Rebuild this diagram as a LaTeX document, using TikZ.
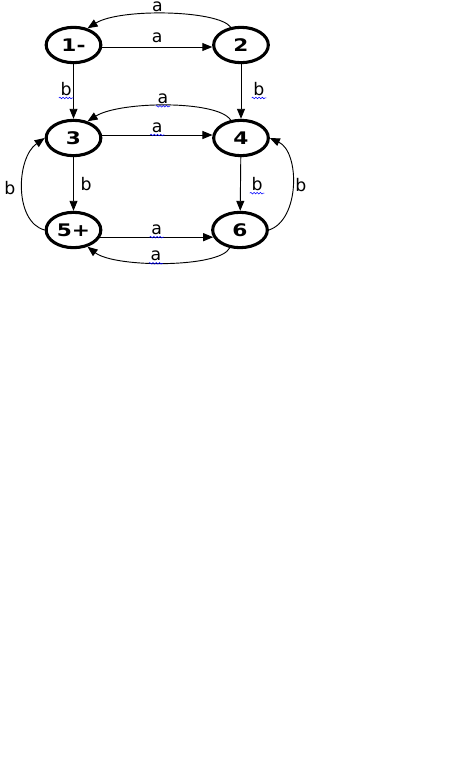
\documentclass[tikz,border=0pt]{standalone}
\usepackage{fontspec}
\setmainfont{DejaVu Sans}
\newfontfamily\statefont{DejaVu Sans}[FakeStretch=1.25]
\usetikzlibrary{arrows.meta,shapes.geometric,decorations.pathmorphing}

\begin{document}
\begin{tikzpicture}[
  x=0.75pt, y=0.75pt,
  state/.style={
    ellipse,
    line width=2.3pt,
    draw=black,
    minimum width=41pt,
    minimum height=26.5pt,
    inner sep=0pt,
    font=\statefont\bfseries\fontsize{13}{15}\selectfont
  },
  trans/.style={-{Triangle[length=7.5pt,width=6pt]}, line width=0.7pt},
  lab/.style={font=\fontsize{13}{15}\selectfont, inner sep=1pt},
  typo/.style={draw=blue, line width=0.4pt, decorate,
    decoration={snake, amplitude=0.6pt, segment length=2.4pt}}]
  \useasboundingbox (0,0) rectangle (450,-760);
  % first row
  \node[state] (s1) at (73.5,-45) {1-};
  \node[state] (s2) at (241,-45) {2};
  % second row
  \node[state] (s3) at (73.5,-138) {3};
  \node[state] (s4) at (241,-138) {4};
  % third row
  \node[state] (s5) at (73.5,-230) {5+};
  \node[state] (s6) at (240,-230) {6};

  % transitions on a
  \draw[trans] (s1.-4) -- node[lab,above=1.5pt] (a12) {a} (s2.184);
  \draw[trans] (s2.120) .. controls (218,-10) and (120,-8) .. node[lab,above,pos=0.55] (a21) {a} (s1.50);
  \draw[trans] (s3.6) -- node[lab,above=0.5pt] (a34) {a} (s4.174);
  \draw[trans] (s4.120) .. controls (218,-100) and (120,-101) .. node[lab,above,pos=0.52] (a43) {a} (s3.50);
  \draw[trans] (s5.-15) -- node[lab,above=0.5pt] (a56) {a} (s6.195);
  \draw[trans] (s6.240) .. controls (220,-268) and (115,-268) .. node[lab,above,pos=0.55] (a65) {a} (s5.-50);
  % transitions on b
  \draw[trans] (s1) -- node[lab,left,pos=0.45] (b13) {b} (s3);
  \draw[trans] (s2) -- node[lab,right=8pt,pos=0.45] (b24) {b} (s4);
  \draw[trans] (s3) -- node[lab,right=4pt] (b35) {b} (s5);
  \draw[trans] (s4) -- node[lab,right=7pt] (b46) {b} (s6);
  \draw[trans] (s5.west) .. controls (14,-222) and (16,-158) .. node[lab,left=4pt] (b53) {b} (s3.west);
  \draw[trans] (s6.east) .. controls (300,-220) and (300,-152) .. node[lab,right=1pt] (b64) {b} (s4.east);

  % spell check marks
  \foreach \l in {b13,b24,a43,a34,b46,a56,a65}
    \draw[typo] ([yshift=-0.5pt]\l.south west) -- ([yshift=-0.5pt]\l.south east);
\end{tikzpicture}
\end{document}
